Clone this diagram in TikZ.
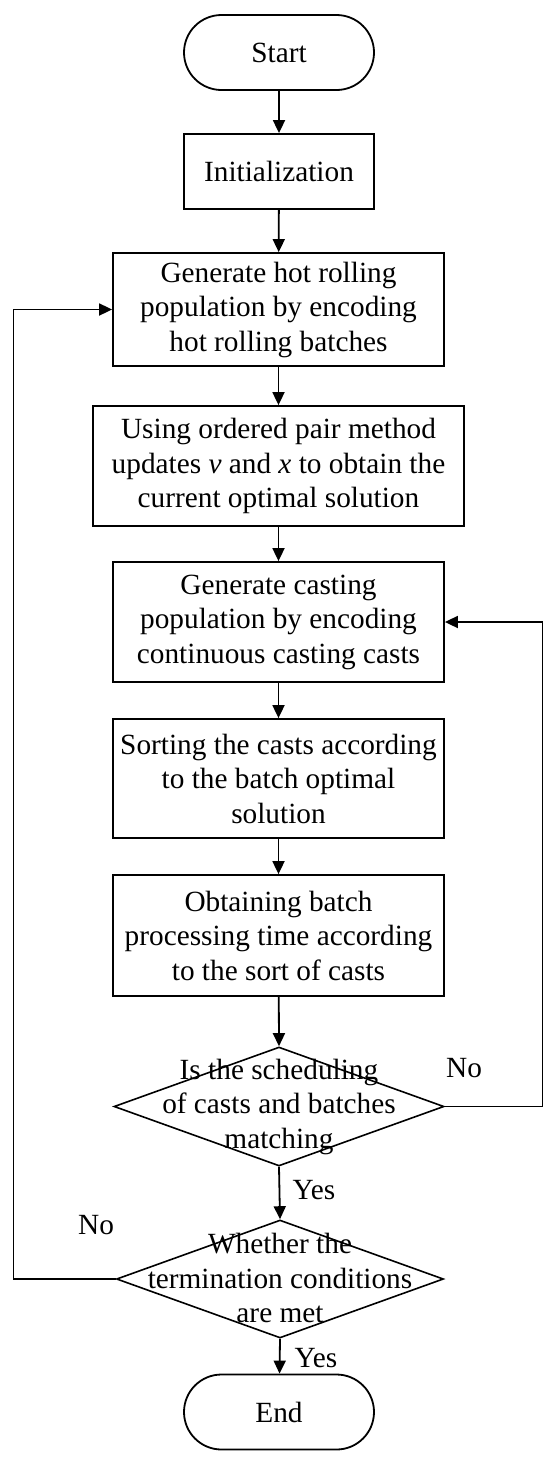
\documentclass[tikz,border=0pt]{standalone}
\usepackage{fontspec}
\setmainfont{Liberation Serif}
\usetikzlibrary{shapes.geometric,arrows.meta}
\begin{document}
\begin{tikzpicture}[x=0.5pt,y=-0.5pt,
  txt/.style={font=\fontsize{14.65pt}{17.25pt}\selectfont, align=center, inner sep=0pt},
  box/.style={txt, draw, line width=0.9pt, inner sep=0pt, minimum width=#1*0.5pt},
  term/.style={txt, draw, line width=0.9pt, rounded corners=18.75pt, minimum width=95pt, minimum height=37.5pt},
  dia/.style={draw, diamond, line width=0.8pt, inner sep=0pt, minimum width=165pt, minimum height=59.5pt},
  conn/.style={line width=0.9pt, -{Triangle[length=6.5pt,width=6pt]}},
  lab/.style={font=\fontsize{14.65pt}{17.25pt}\selectfont, inner sep=0pt}]
\useasboundingbox (0,0) rectangle (550,1462);

\node[term] (start) at (279,52.5) {Start};
\node[box=190, minimum height=37.5pt] (init) at (279,171.5) {Initialization};
\node[box=331, minimum height=56.5pt] (hot) at (278.5,309.5) {Generate hot rolling\\population by encoding\\hot rolling batches};
\node[box=371, minimum height=60pt] (using) at (278.5,466) {Using ordered pair method\\updates \textit{v} and \textit{x} to obtain the\\current optimal solution};
\node[box=331, minimum height=60pt] (cast) at (278.5,622) {Generate casting\\population by encoding\\continuous casting casts};
\node[box=331, minimum height=59.5pt] (sort) at (278.5,778.5) {Sorting the casts according\\to the batch optimal\\solution};
\node[box=331, minimum height=60.5pt] (obt) at (278.5,935.5) {Obtaining batch\\processing time according\\to the sort of casts};

\node[dia] (d1) at (279,1106.5) {};
\node[txt] (d1t) at (279,1106.5) {Is the scheduling\\of casts and batches\\matching};
\node[dia, minimum width=163.5pt, minimum height=59pt] (d2) at (280,1279) {};
\node[txt] (d2t) at (280,1278) {Whether the\\termination conditions\\are met};

\node[term] (end) at (279,1412) {End};

\draw[conn] (start) -- (init);
\draw[conn] (init) -- (hot);
\draw[conn] (hot) -- (using);
\draw[conn] (using) -- (cast);
\draw[conn] (cast) -- (sort);
\draw[conn] (sort) -- (obt);
\draw[conn] (obt) -- (d1.north);
\draw[conn] (d1.south) -- (d2.north);
\draw[conn] (d2.south) -- (end);

\coordinate (rr) at (542.5,1106.5);
\coordinate (ll) at (13.5,1279);
\draw[conn] (d1.east) -- (rr) |- (cast.east);
\draw[conn] (d2.west) -- (ll) |- (hot.west);

\node[lab] (no1) at (464,1068) {No};
\node[lab] (yes1) at (314,1190) {Yes};
\node[lab] (no2) at (96,1225) {No};
\node[lab] (yes2) at (316,1358) {Yes};
\end{tikzpicture}
\end{document}
